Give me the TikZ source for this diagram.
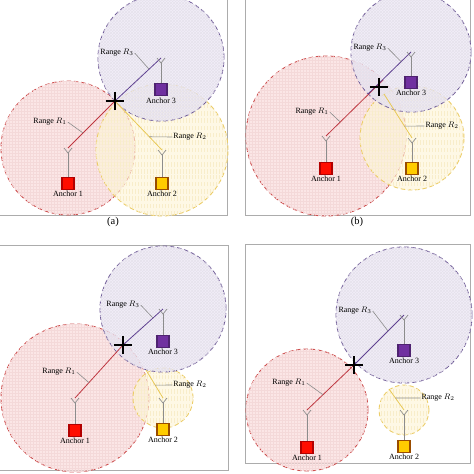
\documentclass[tikz,border=0pt]{standalone}
\usepackage{fontspec}
\setmainfont{Liberation Serif}
\usepackage{tikz}
\usetikzlibrary{positioning, calc, patterns, shapes.misc}
\definecolor{redEdge}{RGB}{205, 80, 80}
\definecolor{redTint}{RGB}{249, 216, 216}
\definecolor{redRange}{RGB}{190, 55, 65}
\definecolor{purpleEdge}{RGB}{110, 90, 150}
\definecolor{purpleTint}{RGB}{234, 229, 244}
\definecolor{purpleRange}{RGB}{95, 65, 145}
\definecolor{purpleBox}{RGB}{112, 48, 160}
\definecolor{yellowEdge}{RGB}{236, 205, 105}
\definecolor{yellowTint}{RGB}{253, 245, 215}
\definecolor{yellowRange}{RGB}{232, 200, 85}
\definecolor{stemGray}{RGB}{140, 140, 140}
\definecolor{frameGray}{RGB}{172, 172, 172}

\begin{document}
\begin{tikzpicture}[
  x=1pt, y=-1pt,
  frame/.style={draw=frameGray, line width=0.9pt},
  zone/.style={dash pattern=on 4.5pt off 2.8pt, line width=0.9pt, fill opacity=0.65},
  redzone/.style={zone, draw=redEdge, fill=redTint, postaction={pattern=grid, pattern color=redEdge!22}},
  yellowzone/.style={zone, draw=yellowEdge, fill=yellowTint, postaction={pattern=vertical lines, pattern color=yellowEdge!35}},
  purplezone/.style={zone, draw=purpleEdge, fill=purpleTint, postaction={pattern=crosshatch, pattern color=purpleEdge!18}},
  rangeline/.style={line width=0.8pt},
  stem/.style={draw=stemGray, line width=0.7pt},
  leader/.style={draw=stemGray, line width=0.6pt},
  box/.style={rectangle, minimum size=12pt, inner sep=0pt, line width=1.1pt},
  boxone/.style={box, draw=red!70!black, fill=red!90!orange},
  boxtwo/.style={box, draw=orange!60!black, fill=orange!40!yellow},
  boxthree/.style={box, draw=purpleBox!70!black, fill=purpleBox},
  anchorlbl/.style={font=\fontsize{8}{9}\selectfont, inner sep=0.5pt},
  rangelbl/.style={font=\fontsize{8}{9}\selectfont, inner sep=1pt},
  panellbl/.style={font=\fontsize{10.5}{12}\selectfont},
  plusmark/.style={cross out, draw=black, rotate=45, minimum size=11pt, inner sep=0pt, line width=2pt},
  antenna/.pic={\draw[stem] (-4,0) -- (0,5) -- (4,0);}
]
  \useasboundingbox (0,0) rectangle (474,474);
  \clip (0,0) rectangle (474,474);

  % frames
  \draw[frame] (-5,-5) rectangle (227,215);
  \draw[frame] (245,-5) rectangle (470,215);
  \draw[frame] (-5,245) rectangle (228,470);
  \draw[frame] (245,244) rectangle (470,463);
  \node[panellbl] (capa) at (113,222) {(a)};
  \node[panellbl] (capb) at (357,222) {(b)};

  % ---------- (a) ----------
  \coordinate (ant1a) at (68,148);
  \coordinate (ant2a) at (162,150);
  \coordinate (ant3a) at (161,58);
  \coordinate (crossa) at (115,101);
  \draw[redzone] (ant1a) circle[radius=67pt];
  \draw[yellowzone] (ant2a) circle[radius=66pt];
  \draw[purplezone] (ant3a) circle[radius=63pt];
  \draw[rangeline, redRange] (ant1a) -- (crossa);
  \draw[rangeline, yellowRange] (ant2a) -- (crossa);
  \draw[rangeline, purpleRange] (ant3a) -- (crossa);
  \node[boxone, below=28.5pt of ant1a] (sq1a) {};
  \node[boxtwo, below=26.5pt of ant2a] (sq2a) {};
  \node[boxthree, below=25pt of ant3a] (sq3a) {};
  \foreach \i in {1,2,3} {
    \pic at (ant\i a) {antenna};
    \draw[stem] (sq\i a) -- ([yshift=-5pt]ant\i a);
    \node[anchorlbl, below=1pt of sq\i a] {Anchor \i};
  }
  \node[rangelbl] (r1a) at (50,122) {Range $R_1$};
  \node[rangelbl] (r2a) at (190,137) {Range $R_2$};
  \node[rangelbl] (r3a) at (117,53) {Range $R_3$};
  \draw[leader] (r1a.east) -- ($(ant1a)!0.32!(crossa)$);
  \draw[leader] ($(ant2a)!0.27!(crossa)$) -- (r2a.west);
  \draw[leader] (r3a.east) -- ($(ant3a)!0.26!(crossa)$);
  \node[plusmark] (pa) at (crossa) {};

  % ---------- (b) ----------
  \coordinate (ant1b) at (326,136);
  \coordinate (ant2b) at (412,138);
  \coordinate (ant3b) at (411,52);
  \coordinate (crossb) at (379,87);
  \coordinate (end1b) at (383,80);
  \coordinate (end2b) at (384,94);
  \coordinate (end3b) at (368,94);
  \draw[redzone] (ant1b) circle[radius=80pt];
  \draw[yellowzone] (ant2b) circle[radius=52pt];
  \draw[purplezone] (ant3b) circle[radius=60pt];
  \draw[rangeline, redRange] (ant1b) -- (end1b);
  \draw[rangeline, yellowRange] (ant2b) -- (end2b);
  \draw[rangeline, purpleRange] (ant3b) -- (end3b);
  \node[boxone, below=25.5pt of ant1b] (sq1b) {};
  \node[boxtwo, below=23.5pt of ant2b] (sq2b) {};
  \node[boxthree, below=23.5pt of ant3b] (sq3b) {};
  \foreach \i in {1,2,3} {
    \pic at (ant\i b) {antenna};
    \draw[stem] (sq\i b) -- ([yshift=-5pt]ant\i b);
    \node[anchorlbl, below=1pt of sq\i b] {Anchor \i};
  }
  \node[rangelbl] (r1b) at (312,112) {Range $R_1$};
  \node[rangelbl] (r2b) at (442,126) {Range $R_2$};
  \node[rangelbl] (r3b) at (370,48) {Range $R_3$};
  \draw[leader] (r1b.east) -- ($(ant1b)!0.25!(end1b)$);
  \draw[leader] ($(ant2b)!0.27!(end2b)$) -- (r2b.west);
  \draw[leader] (r3b.east) -- ($(ant3b)!0.23!(end3b)$);
  \node[plusmark] (pb) at (crossb) {};

  % ---------- (c) ----------
  \coordinate (ant1c) at (75,398);
  \coordinate (ant2c) at (163,398);
  \coordinate (ant3c) at (163,309);
  \coordinate (crossc) at (123,345);
  \coordinate (end2c) at (146,370);
  \draw[redzone] (ant1c) circle[radius=74pt];
  \draw[yellowzone] (ant2c) circle[radius=30pt];
  \draw[purplezone] (ant3c) circle[radius=63pt];
  \draw[rangeline, redRange] (ant1c) -- (crossc);
  \draw[rangeline, yellowRange] (ant2c) -- (end2c);
  \draw[rangeline, purpleRange] (ant3c) -- (crossc);
  \node[boxone, below=25.5pt of ant1c] (sq1c) {};
  \node[boxtwo, below=24.5pt of ant2c] (sq2c) {};
  \node[boxthree, below=25.5pt of ant3c] (sq3c) {};
  \foreach \i in {1,2,3} {
    \pic at (ant\i c) {antenna};
    \draw[stem] (sq\i c) -- ([yshift=-5pt]ant\i c);
    \node[anchorlbl, below=1pt of sq\i c] {Anchor \i};
  }
  \node[rangelbl] (r1c) at (59,372) {Range $R_1$};
  \node[rangelbl] (r2c) at (190,385) {Range $R_2$};
  \node[rangelbl] (r3c) at (123,305) {Range $R_3$};
  \draw[leader] (r1c.east) -- ($(ant1c)!0.29!(crossc)$);
  \draw[leader] ($(ant2c)!0.46!(end2c)$) -- (r2c.west);
  \draw[leader] (r3c.east) -- ($(ant3c)!0.25!(crossc)$);
  \node[plusmark] (pc) at (crossc) {};

  % ---------- (d) ----------
  \coordinate (ant1d) at (307,410);
  \coordinate (ant2d) at (404,410);
  \coordinate (ant3d) at (404,315);
  \coordinate (crossd) at (354,365);
  \coordinate (end2d) at (389,389);
  \draw[redzone] (ant1d) circle[radius=61pt];
  \draw[yellowzone] (ant2d) circle[radius=25pt];
  \draw[purplezone] (ant3d) circle[radius=68pt];
  \draw[rangeline, redRange] (ant1d) -- (crossd);
  \draw[rangeline, yellowRange] (ant2d) -- (end2d);
  \draw[rangeline, purpleRange] (ant3d) -- (crossd);
  \node[boxone, below=30.5pt of ant1d] (sq1d) {};
  \node[boxtwo, below=29.5pt of ant2d] (sq2d) {};
  \node[boxthree, below=28.5pt of ant3d] (sq3d) {};
  \foreach \i in {1,2,3} {
    \pic at (ant\i d) {antenna};
    \draw[stem] (sq\i d) -- ([yshift=-5pt]ant\i d);
    \node[anchorlbl, below=1pt of sq\i d] {Anchor \i};
  }
  \node[rangelbl] (r1d) at (289,383) {Range $R_1$};
  \node[rangelbl] (r2d) at (438,398) {Range $R_2$};
  \node[rangelbl] (r3d) at (355,311) {Range $R_3$};
  \draw[leader] (r1d.east) -- ($(ant1d)!0.34!(crossd)$);
  \draw[leader] ($(ant2d)!0.57!(end2d)$) -- (r2d.west);
  \draw[leader] (r3d.east) -- ($(ant3d)!0.32!(crossd)$);
  \node[plusmark] (pd) at (crossd) {};
\end{tikzpicture}
\end{document}
